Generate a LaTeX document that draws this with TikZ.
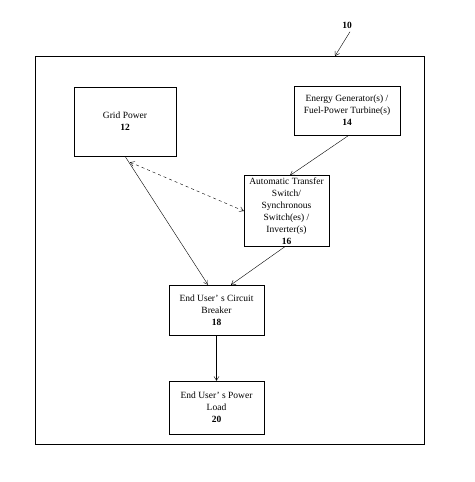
\documentclass[tikz,border=0pt]{standalone}
\usepackage{fontspec}
\setmainfont{Liberation Serif}
\usetikzlibrary{arrows.meta}

\tikzset{
  blk/.style={draw, thin, align=center, inner sep=2pt,
    font=\fontsize{9.5}{12}\selectfont},
  conn/.style={-{Straight Barb[length=4pt,width=5pt]}, thin},
}

\begin{document}
\begin{tikzpicture}[x=1pt,y=-1pt]
  \useasboundingbox (0,0) rectangle (474,482);
  \draw[thin] (35,56) rectangle (424,444);
  \node (ref) at (347,25) {\fontsize{9.5}{12}\selectfont\bfseries 10};
  \coordinate (frametop) at (335,56);
  \draw[conn] (ref.south) ++(3,0) -- (frametop);

  \node[blk, minimum width=102, minimum height=69] (grid) at (125,121.5)
    {Grid Power\\\textbf{12}};
  \node[blk, minimum width=106, minimum height=49] (gen) at (347,110.5)
    {Energy Generator(s) /\\Fuel-Power Turbine(s)\\\textbf{14}};
  \node[blk, minimum width=85, minimum height=70] (ats) at (286.5,211)
    {Automatic Transfer\\Switch/\\Synchronous\\Switch(es) /\\Inverter(s)\\\textbf{16}};
  \node[blk, minimum width=95, minimum height=50] (cb) at (216.5,310)
    {End User’ s Circuit\\Breaker\\\textbf{18}};
  \node[blk, minimum width=95, minimum height=53] (load) at (216.5,407.5)
    {End User’ s Power\\Load\\\textbf{20}};

  \draw[conn] (grid.south) -- ([xshift=-8.5pt]cb.north);
  \draw[conn] ([xshift=2pt]gen.south) -- ([xshift=3.5pt]ats.north);
  \draw[conn] ([xshift=-1.5pt]ats.south) -- ([xshift=14.5pt]cb.north);
  \draw[conn] (cb.south) -- (load.north);
  \draw[conn, {Straight Barb[length=4pt,width=5pt]}-{Straight Barb[length=4pt,width=5pt]}, dashed]
    ([xshift=5pt,yshift=-6pt]grid.south) -- (ats.west);
\end{tikzpicture}
\end{document}
